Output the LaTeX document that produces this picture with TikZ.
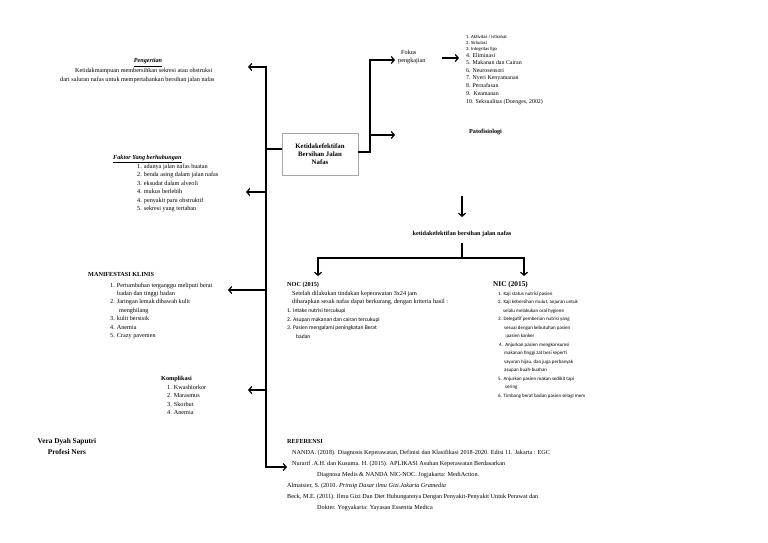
\documentclass[tikz,border=0pt]{standalone}
\usepackage{fontspec}
\setmainfont{Liberation Serif}
\newfontfamily\calfont{Carlito}
\usetikzlibrary{arrows.meta}
\newcommand\txa{\fontsize{6.2}{7}\selectfont}
\newcommand\txb{\fontsize{5.9}{7}\selectfont}
\newcommand\sfa{\calfont\fontsize{5.6}{7}\selectfont}
\newcommand\sfb{\calfont\fontsize{5}{7}\selectfont}
\newcommand\decofont{\fontsize{7.3}{8}\selectfont\bfseries}
\begin{document}
\begin{tikzpicture}[x=1pt,y=-1pt,
 conn/.style={line width=1.5pt},
 arr/.style={line width=1.5pt,-{Straight Barb[length=3pt,width=7pt,line width=1.2pt]}},
 barb/.style={{Straight Barb[length=3pt,width=7pt,line width=1.2pt]}-{Straight Barb[length=3pt,width=7pt,line width=1.2pt]}},
 t/.style={anchor=base west,inner sep=0pt,font=\txa},
 tb/.style={anchor=base west,inner sep=0pt,font=\txb},
 tc/.style={anchor=base,inner sep=0pt,font=\txa},
 ts/.style={anchor=base west,inner sep=0pt,font=\sfa},
 tsn/.style={anchor=base west,inner sep=0pt,font=\sfb},
 head/.style={anchor=base west,inner sep=0pt,font=\txa\bfseries},
 ]
\useasboundingbox[fill=white] (0,0) rectangle (768,543);

% central box
\node[draw=black!35,line width=0.6pt,fill=white,minimum width=76pt,minimum height=42pt,
  align=center,inner sep=0pt,font=\fontsize{6.8}{8}\selectfont\bfseries] (box) at (320,154)
  {Ketidakefektifan\\Bersihan Jalan\\Nafas};

% main spine
\coordinate (pengTip) at (248,67);
\coordinate (mTop) at (266,67);
\coordinate (mBot) at (266,467);
\coordinate (refTip) at (287,467);
\draw[conn,barb] (pengTip) -- (mTop) -- (mBot) -- (refTip);
\coordinate (mBox) at (266,149);
\draw[conn] (mBox) -- (mBox -| box.west);
\coordinate (mFak) at (266,192);   \coordinate (fakTip) at (246,192);
\coordinate (mMan) at (266,290);   \coordinate (manTip) at (228,290);
\coordinate (mKom) at (266,390);   \coordinate (komTip) at (248,390);
\draw[arr] (mFak) -- (fakTip);
\draw[arr] (mMan) -- (manTip);
\draw[arr] (mKom) -- (komTip);

% right side of box
\coordinate (rB) at (370,152);
\coordinate (rT) at (370,60);
\coordinate (fokTip) at (395,60);
\coordinate (rM) at (370,135);
\coordinate (patTip) at (395,135);
\draw[arr] (rB -| box.east) -- (rB) -- (rT) -- (fokTip);
\draw[arr] (rM) -- (patTip);
\coordinate (fokA) at (442,58);
\coordinate (fokB) at (459,58);
\draw[arr] (fokA) -- (fokB);

% Pengertian
\node[tc,font=\txa\bfseries\itshape] (peng) at (148,63) {\underline{Pengertian}};
\node[t] (peng1) at (75,72.5) {Ketidakmampuan membersihkan sekresi atau obstruksi};
\node[t] (peng2) at (60,81.5) {dari saluran nafas untuk mempertahankan bersihan jalan nafas};

% Faktor
\node[head,font=\txa\bfseries\itshape] (fak) at (113,159) {\underline{Faktor Yang berhubungan}};
\foreach \s [count=\i] in {1. adanya jalan nafas buatan,2. benda asing dalam jalan nafas,3. eksudat dalam alveoli,4. mukus berlebih,4. penyakit paru obstruktif,5. sekresi yang tertahan}
  \node[t] (fak\i) at (137,{168+8.5*(\i-1)}) {\s};

% Fokus pengkajian
\node[t] (fok1) at (401,55) {Fokus};
\node[t] (fok2) at (398,62.5) {pengkajian};

% assessment list
\node[tsn,font=\calfont\fontsize{4.7}{6}\selectfont] (l1) at (466,39) {1. Aktivitas / istirahat};
\node[tsn,font=\calfont\fontsize{4.7}{6}\selectfont] (l2) at (466,45) {2. Sirkulasi};
\node[tsn,font=\calfont\fontsize{4.7}{6}\selectfont] (l3) at (466,51) {3. Integritas Ego};
\node[tb] (l4) at (466,58) {4. Eliminasi};
\node[tb] (l5) at (466,65) {5. Makanan dan Cairan};
\node[tb] (l6) at (466,72) {6. Neurosensori};
\node[tb] (l7) at (466,79.5) {7. Nyeri Kenyamanan};
\node[tb] (l8) at (466,87) {8. Pernafasan};
\node[tb] (l9) at (466,95) {9.\ \ Keamanan};
\node[tb] (l10) at (466,103) {10. Seksualitas (Doenges, 2002)};

% Patofisiologi
\node[head] (pat) at (469,133) {Patofisiologi};

% ketidakefektifan + tree
\coordinate (dA) at (462,196);
\coordinate (dB) at (462,217);
\draw[arr] (dA) -- (dB);
\node[tc,font=\txa\bfseries] (ket) at (462,235) {ketidakefektifan bersihan jalan nafas};
\coordinate (tTop) at (462,243);
\coordinate (tMid) at (462,258);
\coordinate (tL) at (318,258);
\coordinate (tR) at (524,258);
\coordinate (nocTip) at (318,276);
\coordinate (nicTip) at (524,276);
\draw[conn] (tTop) -- (tMid);
\draw[arr] (tMid) -- (tL) -- (nocTip);
\draw[arr] (tMid) -- (tR) -- (nicTip);

% Manifestasi
\node[head] (man) at (88,276) {MANIFESTASI KLINIS};
\node[t] (man1) at (110,287) {1. Pertumbuhan terganggu meliputi berat};
\node[t] (man1b) at (117,295) {badan dan tinggi badan};
\node[t] (man2) at (110,303.5) {2. Jaringan lemak dibawah kulit};
\node[t] (man2b) at (119,312) {menghilang};
\node[t] (man3) at (110,320.5) {3. kulit bersisik};
\node[t] (man4) at (110,329) {4. Anemia};
\node[t] (man5) at (110,337.5) {5. Crazy pavemen};

% NOC
\node[head] (noc) at (287,286) {NOC (2015)};
\node[t] (noc1) at (292,295) {Setelah dilakukan tindakan keperawatan 3x24 jam};
\node[t] (noc2) at (292,303) {diharapkan sesak nafas dapat berkurang, dengan kriteria hasil :};
\node[ts] (noc3) at (287,312.5) {1. Intake nutrisi tercukupi};
\node[ts] (noc4) at (287,321) {2. Asupan makanan dan cairan tercukupi};
\node[ts] (noc5) at (287,329.5) {3. Pasien mengalami peningkatan Berat};
\node[ts] (noc6) at (296,338) {badan};

% NIC
\node[anchor=base west,inner sep=0pt,font=\decofont] (nic) at (493,286) {NIC (2015)};
\node[tsn] (nic1) at (498,295) {1. Kaji status nutrisi pasien};
\node[tsn] (nic2) at (498,303.5) {2. Kaji kebersihan mulut, anjuran untuk};
\node[tsn] (nic2b) at (503,312) {selalu melakukan oral hygiene};
\node[tsn] (nic3) at (498,320.5) {3. Delegatif pemberian nutrisi yang};
\node[tsn] (nic3b) at (504,329) {sesuai dengan kebutuhan pasien};
\node[tsn] (nic3c) at (505,337.5) {:pasien kanker};
\node[tsn] (nic4) at (499,346) {4.\ \ Anjurkan pasien mengkonsumsi};
\node[tsn] (nic4b) at (504,354.5) {makanan tinggi zat besi seperti};
\node[tsn] (nic4c) at (504,363) {sayuran hijau, dan juga perbanyak};
\node[tsn] (nic4d) at (504,371.5) {asupan buah-buahan};
\node[tsn] (nic5) at (498,380) {5. Anjurkan pasien makan sedikit tapi};
\node[tsn] (nic5b) at (505,388.5) {sering};
\node[tsn] (nic6) at (498,397) {6. Timbang berat badan pasien selagi mem};

% Komplikasi
\node[head] (kom) at (161,380) {Komplikasi};
\node[t] (kom1) at (167,389) {1. Kwashiorkor};
\node[t] (kom2) at (167,397.5) {2. Marasmus};
\node[t] (kom3) at (167,406) {3. Skorbut};
\node[t] (kom4) at (167,414.5) {4. Anemia};

% author
\node[anchor=base,inner sep=0pt,font=\decofont] (ver1) at (67,443) {Vera Dyah Saputri};
\node[anchor=base,inner sep=0pt,font=\decofont] (ver2) at (67,454) {Profesi Ners};

% Referensi
\node[head] (ref) at (287,443) {REFERENSI};
\node[t] (ref1) at (292,454.5) {NANDA. (2018). Diagnosis Keperawatan, Definisi dan Klasifikasi 2018-2020. Edisi 11. Jakarta : EGC};
\node[t] (ref2) at (292,465.5) {Nurarif .A.H. dan Kusuma. H. (2015). APLIKASI Asuhan Keperawatan Berdasarkan};
\node[t] (ref3) at (317,476.5) {Diagnosa Medis \& NANDA NIC-NOC. Jogjakarta: MediAction.};
\node[t] (ref4) at (287,487.5) {Almatsier, S. (2010. \textit{Prinsip Dasar ilmu Gizi.Jakarta Gramedia}};
\node[t] (ref5) at (287,498.5) {Beck, M.E. (2011). Ilmu Gizi Dan Diet Hubungannya Dengan Penyakit-Penyakit Untuk Perawat dan};
\node[t] (ref6) at (317,509.5) {Dokter. Yogyakarta: Yayasan Essentia Medica};
\end{tikzpicture}
\end{document}
